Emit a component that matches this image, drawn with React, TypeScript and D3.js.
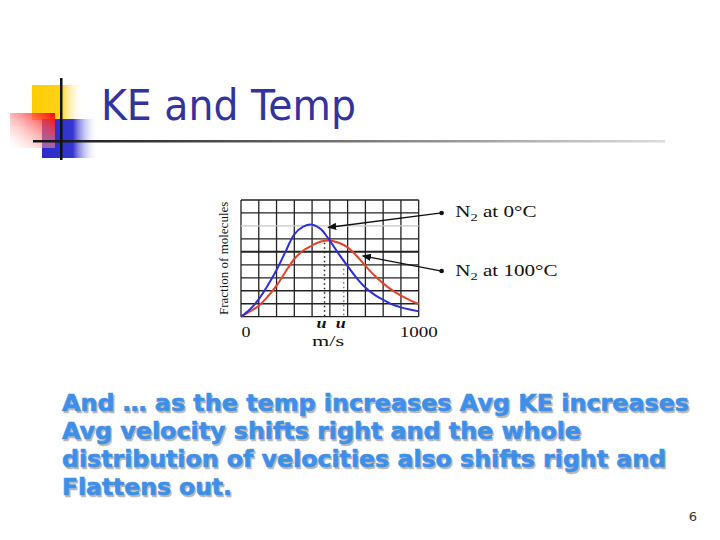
import React, { useEffect, useRef } from 'react';
import * as d3 from 'd3';

// speeds (m/s) sampled every 50
const speeds = [0, 50, 100, 150, 200, 250, 300, 350, 400, 450, 500, 550, 600, 650, 700, 750, 800, 850, 900, 950, 1000];
// fraction of molecules, in grid rows
const n2At0 = [0, 0.55, 1.35, 2.4, 3.6, 5.0, 6.35, 6.95, 7.1, 6.75, 5.85, 4.85, 3.9, 3.0, 2.25, 1.7, 1.3, 0.95, 0.72, 0.55, 0.41];
const n2At100 = [0, 0.4, 0.85, 1.55, 2.4, 3.45, 4.45, 5.1, 5.5, 5.8, 5.88, 5.7, 5.35, 4.7, 3.93, 3.2, 2.57, 2.05, 1.62, 1.28, 0.98];

const xTicks = [0, 1000];
const xTickWidths = [9, 38];
const avgSpeeds = [470, 578];
const avgTops = [5.7, 4.4];

const bodyLines = [
  'And … as the temp increases Avg KE increases',
  'Avg velocity shifts right and the whole',
  'distribution of velocities also shifts right and',
  'Flattens out.',
];
const bodyWidths = [627, 519, 604, 170];

const App = () => {
  const ref = useRef<SVGSVGElement>(null);

  useEffect(() => {
    const svg = d3.select(ref.current);
    svg.selectAll('*').remove();

    const defs = svg.append('defs');
    const grad = (id: string, x1: string, y1: string, x2: string, y2: string, stops: [string, string, number][]) => {
      const g = defs.append('linearGradient').attr('id', id)
        .attr('x1', x1).attr('y1', y1).attr('x2', x2).attr('y2', y2);
      stops.forEach(([off, col, op]) => g.append('stop').attr('offset', off).attr('stop-color', col).attr('stop-opacity', op));
    };
    grad('gYellow', '0', '0', '1', '0', [['0%', '#ffcc00', 1], ['55%', '#ffd21a', 1], ['100%', '#ffffff', 0]]);
    grad('gBlue', '0', '0', '1', '0', [['0%', '#2b2bcc', 1], ['55%', '#3535d0', 1], ['100%', '#ffffff', 0]]);
    grad('gRed', '1', '0', '0', '1', [['0%', '#ff0000', 1], ['100%', '#ffffff', 0.2]]);
    grad('gRule', '0', '0', '1', '0', [['0%', '#111111', 1], ['100%', '#dddddd', 1]]);

    defs.append('marker').attr('id', 'arrow')
      .attr('viewBox', '0 0 10 10').attr('refX', 9).attr('refY', 5)
      .attr('markerWidth', 7).attr('markerHeight', 7).attr('orient', 'auto-start-reverse')
      .append('path').attr('d', 'M0,1 L10,5 L0,9 Z').attr('fill', '#111');

    // Title decoration
    svg.append('rect').attr('x', 32).attr('y', 85).attr('width', 52).attr('height', 35).attr('fill', 'url(#gYellow)');
    svg.append('rect').attr('x', 42).attr('y', 119).attr('width', 56).attr('height', 39).attr('fill', 'url(#gBlue)');
    svg.append('rect').attr('x', 10).attr('y', 113).attr('width', 45).attr('height', 35).attr('fill', 'url(#gRed)');
    svg.append('rect').attr('x', 33).attr('y', 140).attr('width', 632).attr('height', 2.5).attr('fill', 'url(#gRule)');
    svg.append('rect').attr('x', 60).attr('y', 78).attr('width', 2.5).attr('height', 82).attr('fill', '#111');

    svg.append('text').attr('x', 101).attr('y', 120)
      .attr('font-family', 'DejaVu Sans').attr('font-size', 42)
      .attr('textLength', 255).attr('lengthAdjust', 'spacingAndGlyphs')
      .attr('fill', '#333399').text('KE and Temp');

    // Chart
    const x = d3.scaleLinear().domain([0, 1000]).range([241, 418.7]);
    const y = d3.scaleLinear().domain([0, 9]).range([316.7, 200]);

    const grid = svg.append('g');
    grid.selectAll('line.v').data(d3.range(0, 1001, 100)).enter().append('line')
      .attr('x1', d => x(d)).attr('x2', d => x(d)).attr('y1', y(0)).attr('y2', y(9))
      .attr('stroke', '#222').attr('stroke-width', 1.3);
    grid.selectAll('line.h').data(d3.range(0, 10)).enter().append('line')
      .attr('x1', x(0)).attr('x2', x(1000)).attr('y1', d => y(d)).attr('y2', d => y(d))
      .attr('stroke', d => (d === 7 ? '#c8c8c8' : '#222'))
      .attr('stroke-width', d => (d === 5 ? 2 : 1.3));

    // dotted avg speed lines
    svg.selectAll('line.avg').data(avgSpeeds).enter().append('line')
      .attr('x1', d => x(d)).attr('x2', d => x(d))
      .attr('y1', (d, i) => y(avgTops[i])).attr('y2', y(0))
      .attr('stroke', (d, i) => (i === 0 ? '#222' : '#777'))
      .attr('stroke-width', 1.5).attr('stroke-dasharray', '1.5,3');

    const line = d3.line<number>()
      .x((d, i) => x(speeds[i]))
      .y(d => y(d))
      .curve(d3.curveCatmullRom);

    svg.append('path').attr('d', line(n2At100)).attr('fill', 'none')
      .attr('stroke', '#e5402a').attr('stroke-width', 2);
    svg.append('path').attr('d', line(n2At0)).attr('fill', 'none')
      .attr('stroke', '#2e2ed6').attr('stroke-width', 2);

    // axis labels (the original picture is stretched horizontally)
    const serif = 'Liberation Serif';
    svg.selectAll('text.xt').data(xTicks).enter().append('text')
      .attr('x', (d, i) => x(d) + (i === 0 ? 5 : 0) - xTickWidths[i] / 2).attr('y', 337)
      .attr('textLength', (d, i) => xTickWidths[i]).attr('lengthAdjust', 'spacingAndGlyphs')
      .attr('font-family', serif).attr('font-size', 15)
      .attr('fill', '#111').text(d => String(d));
    svg.selectAll('text.u').data(avgSpeeds).enter().append('text')
      .attr('x', d => x(d) - 8).attr('y', 328)
      .attr('textLength', 10).attr('lengthAdjust', 'spacingAndGlyphs')
      .attr('font-family', serif).attr('font-size', 15)
      .attr('font-style', 'italic').attr('font-weight', 'bold').attr('fill', '#111').text('u');
    svg.append('text').attr('x', x(490) - 16).attr('y', 346)
      .attr('textLength', 32).attr('lengthAdjust', 'spacingAndGlyphs')
      .attr('font-family', serif).attr('font-size', 15)
      .attr('fill', '#111').text('m/s');
    svg.append('text')
      .attr('transform', `translate(228,${y(4.5)}) rotate(-90)`)
      .attr('text-anchor', 'middle').attr('font-family', serif).attr('font-size', 13)
      .attr('fill', '#111').text('Fraction of molecules');

    // legend arrows
    const notes = [
      { from: [1129, 8.0], to: [490, 6.88], label: '0°C', ty: 7.67, w: 85 },
      { from: [1129, 3.52], to: [685, 4.69], label: '100°C', ty: 3.13, w: 108 },
    ];
    notes.forEach(n => {
      svg.append('line')
        .attr('x1', x(n.from[0])).attr('y1', y(n.from[1]))
        .attr('x2', x(n.to[0])).attr('y2', y(n.to[1]))
        .attr('stroke', '#111').attr('stroke-width', 1.3).attr('marker-end', 'url(#arrow)');
      svg.append('circle').attr('cx', x(n.from[0])).attr('cy', y(n.from[1])).attr('r', 2.3).attr('fill', '#111');
      const g = svg.append('g')
        .attr('transform', `translate(${x(1205)},${y(n.ty)}) scale(1.32,1)`);
      const t = g.append('text').attr('x', 0).attr('y', 0)
        .attr('font-family', serif).attr('font-size', 16).attr('fill', '#111');
      t.append('tspan').text('N');
      t.append('tspan').attr('font-size', 11).attr('dy', 3.5).text('2');
      t.append('tspan').attr('dy', -3.5).text(` at ${n.label}`);
    });

    // body text
    const body = svg.append('g').attr('font-family', 'DejaVu Sans').attr('font-weight', 'bold').attr('font-size', 23);
    bodyLines.forEach((s, i) => {
      body.append('text').attr('x', 63.5).attr('y', 412.5 + i * 28)
        .attr('textLength', bodyWidths[i]).attr('lengthAdjust', 'spacingAndGlyphs')
        .attr('fill', '#b9b9b9').attr('stroke', '#b9b9b9').attr('stroke-width', 0.6).text(s);
      body.append('text').attr('x', 62).attr('y', 411 + i * 28)
        .attr('textLength', bodyWidths[i]).attr('lengthAdjust', 'spacingAndGlyphs')
        .attr('fill', '#3d8fea').attr('stroke', '#3d8fea').attr('stroke-width', 0.6).text(s);
    });

    svg.append('text').attr('x', 693).attr('y', 521).attr('font-family', 'DejaVu Sans')
      .attr('font-size', 13).attr('fill', '#333').attr('text-anchor', 'middle').text('6');
  }, []);

  return (
    <div style={{ position: 'fixed', left: 0, top: 0 }}>
      <svg ref={ref} width={720} height={540} style={{ display: 'block', background: '#fff' }} />
    </div>
  );
};

export default App;
